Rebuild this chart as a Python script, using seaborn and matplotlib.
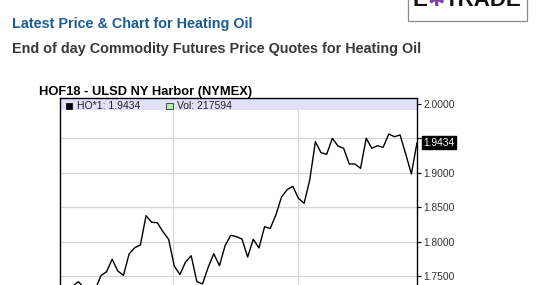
import numpy as np
import pandas as pd
import matplotlib
matplotlib.use("Agg")
import matplotlib.pyplot as plt
from matplotlib.patches import Rectangle
import seaborn as sns

# ---- data ----
prices = [1.735, 1.733, 1.735, 1.7417, 1.733, 1.728, 1.7297, 1.7504, 1.7562, 1.7742,
          1.7572, 1.7509, 1.7819, 1.7910, 1.7949, 1.8374, 1.8279, 1.8273, 1.8142, 1.8032,
          1.7644, 1.7521, 1.7702, 1.7794, 1.7419, 1.7383, 1.7623, 1.7823, 1.7649, 1.7938,
          1.8091, 1.8070, 1.8036, 1.7775, 1.8033, 1.7906, 1.8215, 1.8189, 1.8385, 1.8646,
          1.8752, 1.8801, 1.8627, 1.8554, 1.8893, 1.9448, 1.9289, 1.9266, 1.9498, 1.9386,
          1.9353, 1.9125, 1.9125, 1.9062, 1.9498, 1.9353, 1.9390, 1.9367, 1.9560, 1.9521,
          1.9546, 1.9270, 1.8980, 1.9434]
day_index = list(range(len(prices)))
y_ticks = [1.75, 1.80, 1.85, 1.90, 1.95, 2.00]
month_breaks = [19.8, 42.0]
last_price = 1.9434
volume = 217594

title = "Latest Price & Chart for Heating Oil"
subtitle = "End of day Commodity Futures Price Quotes for Heating Oil"
chart_title = "HOF18 - ULSD NY Harbor (NYMEX)"

df = pd.DataFrame({"day": day_index, "price": prices})

# ---- figure ----
W, H = 542, 285
sns.set_style("white")
plt.rcParams["font.family"] = ["Liberation Sans", "DejaVu Sans"]
fig = plt.figure(figsize=(W / 100, H / 100), dpi=100)

def fx(x):
    return x / W

def fy(y):
    return 1 - y / H

# headings
fig.text(fx(12.5), fy(28.3), title, fontsize=10.4, fontweight="bold",
         color="#1c5b94", va="baseline", ha="left")
fig.text(fx(12.5), fy(52.7), subtitle, fontsize=10.4, fontweight="bold",
         color="#3a3a3a", va="baseline", ha="left")
fig.text(fx(39), fy(95), chart_title, fontsize=9.3, fontweight="bold",
         color="black", va="baseline", ha="left")

# logo box (cut off at the top, as in the reference)
fig.add_artist(Rectangle((fx(407.7), fy(21)), fx(526.7) - fx(407.7), 0.2,
                         transform=fig.transFigure, facecolor="white",
                         edgecolor="#8a8a8a", lw=0.9))
fig.text(fx(413), fy(6), "E", fontsize=16, fontweight="bold", color="#111111",
         va="baseline", ha="left")
fig.text(fx(428), fy(6), "\u2731", fontsize=15, color="#7b3fb0",
         va="baseline", ha="left", family=["DejaVu Sans"])
fig.text(fx(445), fy(6), "TRADE", fontsize=16, fontweight="bold", color="#111111",
         va="baseline", ha="left")

# axes
ax_left, ax_right, ax_top = 60, 417, 98
ax = fig.add_axes([fx(ax_left), 0, fx(ax_right) - fx(ax_left), (H - ax_top) / H])

px_per_unit = 689.0
y2 = 103.7
ytop = 2.0 + (y2 - ax_top) / px_per_unit
ybot = 2.0 - (H - y2) / px_per_unit

for v in y_ticks:
    ax.axhline(v, color="#d6d6d6", lw=0.9, zorder=0)
for m in month_breaks:
    ax.axvline(m, color="#d6d6d6", lw=0.9, zorder=0)

band_bottom = 2.0 - (110 - y2) / px_per_unit
ax.axhspan(band_bottom, ytop + 0.01, color="#e0e0f8", zorder=1, lw=0)

sns.lineplot(data=df, x="day", y="price", ax=ax, color="black", lw=1.0, zorder=3)

ax.set_xlim(-0.24, len(prices) - 1)
ax.set_ylim(ybot, ytop)
ax.set_xlabel("")
ax.set_ylabel("")
ax.set_xticks([])
ax.yaxis.tick_right()
ax.set_yticks(y_ticks)
# the 1.9500 label is covered by the last-price flag in the reference
ax.set_yticklabels(["" if abs(v - 1.95) < 1e-9 else f"{v:.4f}" for v in y_ticks])
ax.tick_params(axis="y", which="both", right=True, left=False, length=3, width=0.8,
               color="black", pad=1.8, labelsize=7.4, labelcolor="#333333")
for s in ["left", "top", "right"]:
    ax.spines[s].set_visible(True)
    ax.spines[s].set_color("black")
    ax.spines[s].set_linewidth(1.0)
ax.spines["bottom"].set_visible(False)

# legend band contents
fig.add_artist(Rectangle((fx(65.7), fy(109.3)), fx(6.6), 6.0 / H,
                         transform=fig.transFigure, facecolor="black",
                         edgecolor="black", lw=0.5))
fig.text(fx(77.3), fy(106.3), f"HO*1: {last_price:.4f}", fontsize=7.5,
         color="#222222", va="center", ha="left")
fig.add_artist(Rectangle((fx(166), fy(109.3)), fx(6.6), 6.0 / H,
                         transform=fig.transFigure, facecolor="#b4eeaa",
                         edgecolor="#333333", lw=0.6))
fig.text(fx(177.3), fy(106.3), f"Vol: {volume}", fontsize=7.5,
         color="#222222", va="center", ha="left")

# current price flag on the right axis
ax.text(1.0 + 6.2 / (ax_right - ax_left), last_price, f"{last_price:.4f}",
        transform=ax.get_yaxis_transform(),
        fontsize=7.4, color="white", va="center", ha="left", zorder=10,
        bbox=dict(boxstyle="square,pad=0.12", facecolor="black", edgecolor="black"))

fig.savefig("out.png", dpi=100)
